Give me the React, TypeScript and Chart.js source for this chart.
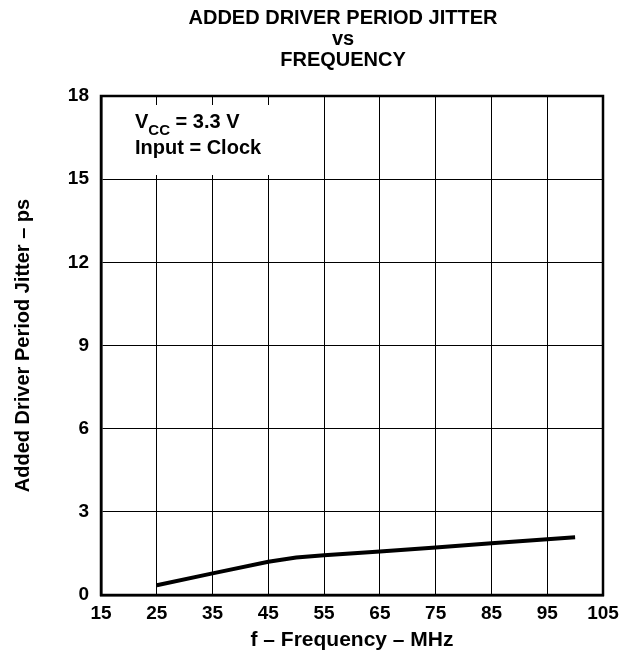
import React, { useEffect, useRef } from "react";
import { Chart, registerables } from "chart.js";

Chart.register(...registerables);

const frequencyMHz = [25, 35, 45, 50, 55, 65, 75, 85, 95, 100];
const jitterPs = [0.35, 0.78, 1.2, 1.35, 1.43, 1.57, 1.71, 1.87, 2.01, 2.08];
const titleLines = ["ADDED DRIVER PERIOD JITTER", "vs", "FREQUENCY"];
const xAxisTitle = "f – Frequency – MHz";
const yAxisTitle = "Added Driver Period Jitter – ps";

const FONT = "'Liberation Sans', Arial, Helvetica, sans-serif";

const overlayPlugin = {
  id: "overlay",
  afterDraw(chart: any) {
    const { ctx, chartArea } = chart;
    const { left, top, right, bottom } = chartArea;
    ctx.save();
    // frame
    ctx.strokeStyle = "#000";
    ctx.lineWidth = 2.5;
    ctx.strokeRect(left, top, right - left, bottom - top);
    // title
    ctx.fillStyle = "#000";
    ctx.textAlign = "center";
    ctx.textBaseline = "alphabetic";
    ctx.font = `bold 20px ${FONT}`;
    const cx = 343;
    const baselines = [24, 45, 66];
    titleLines.forEach((t, i) => {
      ctx.fillText(t, cx, baselines[i]);
    });
    // annotation box
    ctx.fillStyle = "#fff";
    ctx.fillRect(left + 2, top + 9, 190, 70);
    ctx.fillStyle = "#000";
    ctx.textAlign = "left";
    ctx.font = `bold 20px ${FONT}`;
    const tx = 135;
    ctx.fillText("V", tx, 128);
    const vw = ctx.measureText("V").width;
    ctx.font = `bold 15px ${FONT}`;
    ctx.fillText("CC", tx + vw, 135);
    const ccw = ctx.measureText("CC").width;
    ctx.font = `bold 20px ${FONT}`;
    ctx.fillText(" = 3.3 V", tx + vw + ccw, 128);
    ctx.fillText("Input = Clock", tx, 154);
    ctx.restore();
  },
};

export default function App() {
  const ref = useRef<HTMLCanvasElement>(null);
  useEffect(() => {
    document.body.style.margin = "0";
    const data = frequencyMHz.map((x, i) => ({ x, y: jitterPs[i] }));
    const chart = new Chart(ref.current!, {
      type: "line",
      data: {
        datasets: [
          {
            data,
            borderColor: "#000",
            borderWidth: 4,
            pointRadius: 0,
            tension: 0,
            fill: false,
          },
        ],
      },
      options: {
        animation: false,
        responsive: false,
        maintainAspectRatio: false,
        layout: { padding: { left: 0, top: 96, right: 29, bottom: 0 } },
        plugins: { legend: { display: false }, title: { display: false }, tooltip: { enabled: false } },
        scales: {
          x: {
            type: "linear",
            min: 15,
            max: 105,
            afterFit: (s: any) => {
              s.height = 63;
            },
            ticks: {
              stepSize: 10,
              color: "#000",
              padding: 7,
              font: { family: FONT, size: 19, weight: "bold" },
            },
            grid: { color: "#000", lineWidth: 1, drawTicks: false },
            border: { color: "#000", width: 2.5 },
            title: {
              display: true,
              text: xAxisTitle,
              color: "#000",
              font: { family: FONT, size: 21, weight: "bold" },
              padding: { top: 0, bottom: 5 },
            },
          },
          y: {
            type: "linear",
            min: 0,
            max: 18,
            afterFit: (s: any) => {
              s.width = 101;
            },
            ticks: {
              stepSize: 3,
              color: "#000",
              padding: 12,
              font: { family: FONT, size: 19, weight: "bold" },
            },
            grid: { color: "#000", lineWidth: 1, drawTicks: false },
            border: { color: "#000", width: 2.5 },
            title: {
              display: true,
              text: yAxisTitle,
              color: "#000",
              font: { family: FONT, size: 20, weight: "bold" },
              padding: { top: 11, bottom: 0 },
            },
          },
        },
      },
      plugins: [overlayPlugin],
    } as any);
    return () => chart.destroy();
  }, []);
  return <canvas ref={ref} width={632} height={658} style={{ display: "block" }} />;
}
